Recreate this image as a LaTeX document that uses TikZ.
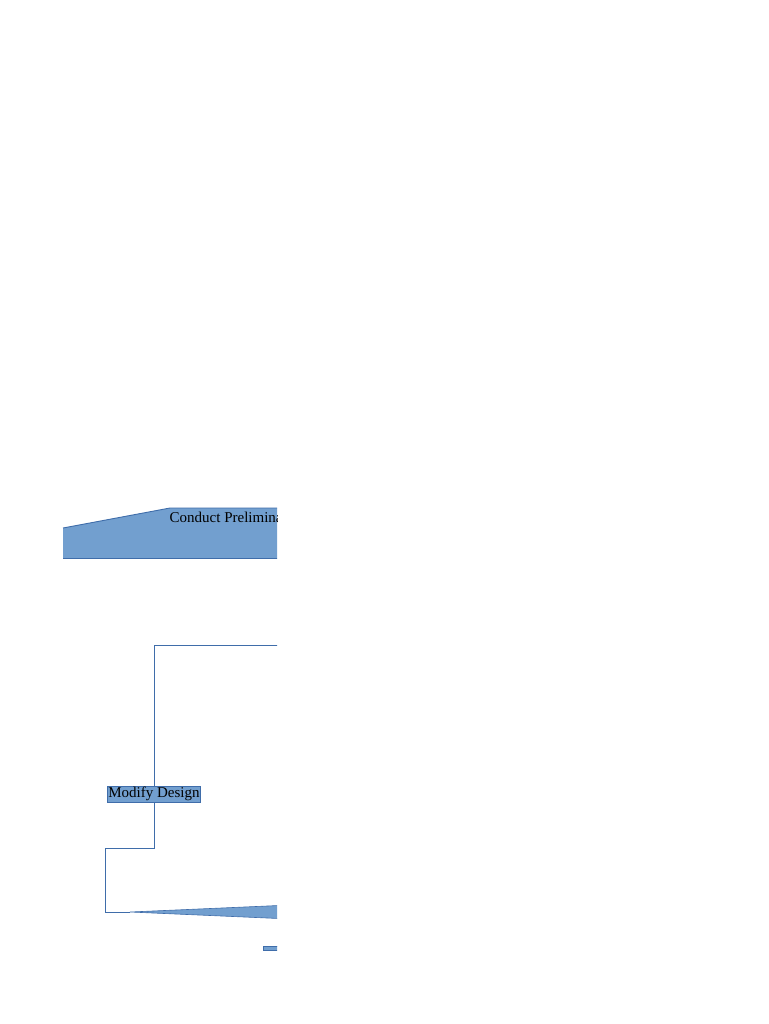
\documentclass[tikz,border=0pt]{standalone}
\usepackage{fontspec}
\setmainfont{Liberation Serif}
\definecolor{stepfill}{HTML}{729FCF}
\definecolor{stepline}{HTML}{3F6DAA}
\begin{document}
\begin{tikzpicture}[x=1pt,y=-1pt,
  font=\fontsize{15}{18}\selectfont,
  stepbox/.style={fill=stepfill,draw=stepline,line width=.8pt,inner sep=1.2pt},
  link/.style={draw=stepline,line width=.9pt}]
\useasboundingbox (0,0) rectangle (768,1024);
\clip (0,0) rectangle (277,1024);

\fill[stepfill] (63,528) -- (170,508) -- (290,508) -- (290,558) -- (63,558) -- cycle;
\draw[link] (63,528) -- (170,508) -- (290,508);
\draw[link] (63,558) -- (290,558);
\node[anchor=base west,inner sep=0pt] (prelim) at (169.5,522) {Conduct Preliminary};

\coordinate (loopin) at (290,645);
\coordinate (bend1) at (154,645);
\node[stepbox] (modify) at (154,794) {Modify Design};
\coordinate (bend2) at (154,848);
\coordinate (bend3) at (105,848);
\coordinate (bend4) at (105,912);
\coordinate (tip) at (130,912);

\draw[link] (loopin) -- (bend1) -- (modify.north);
\draw[link] (modify.south) -- (bend2) -- (bend3) -- (bend4) -- (tip);

\path[stepbox,line width=.6pt] (tip) -- (290,905) -- (290,919) -- cycle;
\path[stepbox,line width=.4pt] (263,946) rectangle (290,950);
\end{tikzpicture}
\end{document}
